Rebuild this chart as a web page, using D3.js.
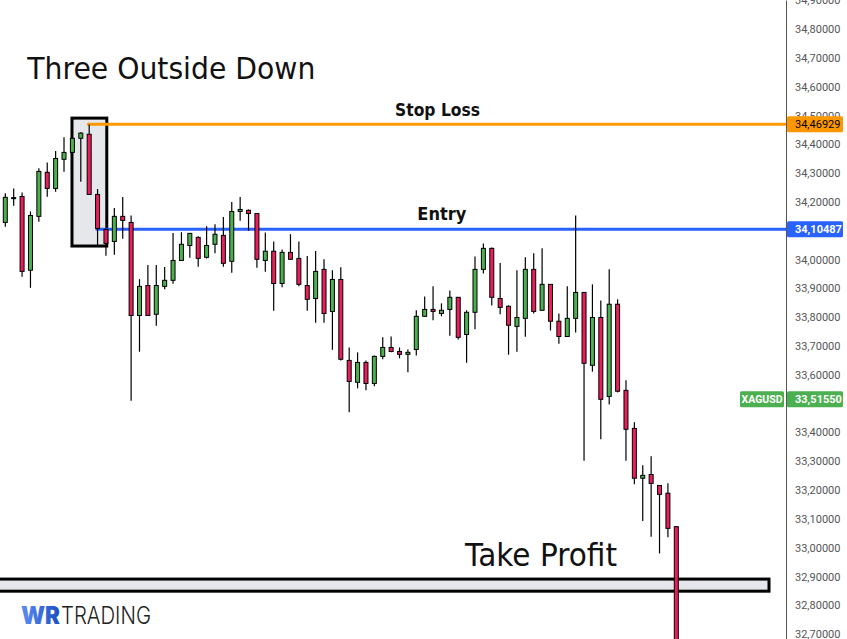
<!DOCTYPE html>
<html><head><meta charset="utf-8">
<script src="https://cdn.jsdelivr.net/npm/d3@7"></script>
<style>html,body{margin:0;padding:0;background:#fff;}svg{display:block;}</style>
</head><body>
<svg id="chart" width="847" height="639"></svg>
<script>
// ---- data ----
const opens  = [34.129,34.213,34.219,33.963,34.150,34.303,34.247,34.348,34.372,34.421,34.435,34.226,34.105,34.063,34.150,34.129,33.806,33.910,33.810,33.907,33.928,33.997,34.049,34.077,34.008,34.053,34.084,33.994,34.167,34.171,34.160,33.997,34.029,33.917,34.025,34.004,33.910,33.865,33.966,33.820,33.931,33.650,33.574,33.643,33.570,33.664,33.695,33.681,33.671,33.688,33.803,33.827,33.813,33.827,33.869,33.740,33.817,33.966,34.039,33.865,33.838,33.768,33.796,33.966,33.824,33.914,33.786,33.733,33.796,33.886,33.633,33.799,33.525,33.845,33.546,33.414,33.241,33.254,33.216,33.189,33.073];
const highs  = [34.230,34.247,34.233,34.167,34.317,34.337,34.377,34.425,34.424,34.442,34.469,34.245,34.108,34.179,34.217,34.153,33.932,33.981,33.981,33.974,34.092,34.095,34.092,34.081,34.116,34.123,34.148,34.200,34.217,34.174,34.161,34.094,34.063,34.035,34.088,34.063,34.012,34.030,34.001,33.963,33.973,33.695,33.678,33.650,33.667,33.730,33.733,33.695,33.688,33.824,33.872,33.907,33.848,33.893,33.870,33.824,34.011,34.056,34.042,33.988,33.841,33.963,34.008,34.022,34.039,33.915,33.813,33.907,34.153,33.887,33.914,33.858,33.966,33.862,33.581,33.435,33.286,33.317,33.217,33.224,33.074];
const lows   = [34.114,34.187,33.940,33.902,34.131,34.218,34.235,34.305,34.370,34.270,34.224,34.050,34.013,34.017,34.072,33.510,33.680,33.804,33.770,33.897,33.916,33.995,34.006,33.975,34.004,34.022,33.975,33.954,34.135,34.100,33.972,33.958,33.822,33.904,33.999,33.907,33.822,33.781,33.781,33.687,33.650,33.470,33.553,33.546,33.560,33.654,33.678,33.657,33.609,33.667,33.801,33.789,33.803,33.736,33.723,33.642,33.758,33.952,33.841,33.810,33.670,33.680,33.732,33.813,33.822,33.754,33.708,33.731,33.747,33.302,33.611,33.376,33.497,33.539,33.302,33.220,33.093,33.038,32.980,33.036,32.600];
const closes = [34.216,34.215,33.959,34.153,34.306,34.247,34.351,34.372,34.421,34.439,34.226,34.108,34.056,34.150,34.136,33.806,33.907,33.806,33.910,33.928,33.997,34.053,34.091,34.004,34.049,34.088,33.987,34.167,34.174,34.160,34.001,34.029,33.917,34.025,34.001,33.914,33.862,33.959,33.813,33.931,33.654,33.577,33.643,33.570,33.664,33.695,33.681,33.671,33.678,33.803,33.827,33.820,33.824,33.869,33.730,33.817,33.966,34.039,33.869,33.834,33.772,33.799,33.966,33.820,33.914,33.786,33.733,33.796,33.886,33.640,33.799,33.515,33.845,33.543,33.411,33.241,33.251,33.223,33.185,33.067,32.620];
// 33.5 tick label is hidden behind the last-price tag in the reference
const yTicks = [32.7,32.8,32.9,33.0,33.1,33.2,33.3,33.4,33.6,33.7,33.8,33.9,34.0,34.1,34.2,34.3,34.4,34.5,34.6,34.7,34.8,34.9];
const stopLoss = 34.46929;
const entry = 34.10487;
const lastPrice = 33.5155;
const takeProfitZone = [32.849, 32.891];
const patternZone = [34.047, 34.491];
const patternIdx = [7.95, 12.1];
const symbol = "XAGUSD";

const candles = opens.map((o,i)=>({i,o,h:highs[i],l:lows[i],c:closes[i]}));

const W = 847, H = 639, axisX = 786;
const svg = d3.select("#chart");
const x = d3.scaleLinear().domain([0, 80]).range([5.3, 676.3]);
const y = d3.scaleLinear().domain([32.683, 34.901]).range([H, 0]);
const fmt = v => d3.format(".5f")(v).replace(".", ",");

svg.append("defs").append("clipPath").attr("id","plot")
  .append("rect").attr("x",0).attr("y",0).attr("width",axisX).attr("height",H);

const plot = svg.append("g").attr("clip-path","url(#plot)");

// pattern box
plot.append("rect")
  .attr("x", x(patternIdx[0])).attr("y", y(patternZone[1]))
  .attr("width", x(patternIdx[1]) - x(patternIdx[0]))
  .attr("height", y(patternZone[0]) - y(patternZone[1]))
  .attr("fill","#e6e7eb").attr("stroke","#000").attr("stroke-width",3);

// take profit box
plot.append("rect")
  .attr("x", -2).attr("y", y(takeProfitZone[1]))
  .attr("width", 771).attr("height", y(takeProfitZone[0]) - y(takeProfitZone[1]))
  .attr("fill","#e6e7eb").attr("stroke","#000").attr("stroke-width",3);

// lines
plot.append("line").attr("x1", x(10)-2).attr("x2", axisX)
  .attr("y1", y(stopLoss)).attr("y2", y(stopLoss))
  .attr("stroke","#ff9800").attr("stroke-width",3);
plot.append("line").attr("x1", x(11)-2).attr("x2", axisX)
  .attr("y1", y(entry)).attr("y2", y(entry))
  .attr("stroke","#2962ff").attr("stroke-width",3);

// candles
const cg = plot.selectAll("g.c").data(candles).join("g").attr("class","c");
cg.append("line")
  .attr("x1", d=>x(d.i)).attr("x2", d=>x(d.i))
  .attr("y1", d=>y(d.h)).attr("y2", d=>y(d.l))
  .attr("stroke","#000").attr("stroke-width",1.2);
const bw = 4;
cg.append("rect")
  .attr("x", d=>x(d.i)-bw/2)
  .attr("y", d=>y(Math.max(d.o,d.c)))
  .attr("width", bw)
  .attr("height", d=>Math.max(1, Math.abs(y(d.o)-y(d.c))))
  .attr("fill", d=> d.c>=d.o ? "#4caf50" : "#e91e5a")
  .attr("stroke","#000").attr("stroke-width",1);

// axis
const axis = svg.append("g").attr("transform",`translate(${axisX},0)`)
  .call(d3.axisRight(y).tickValues(yTicks).tickFormat(fmt).tickSize(0).tickPadding(9));
axis.select(".domain").attr("stroke","#555");
axis.selectAll("text").attr("fill","#555").style("font-family","Roboto, sans-serif").style("font-size","11px");

// price labels
function priceTag(v, fill, color){
  const g = svg.append("g");
  g.append("rect").attr("x", axisX+1).attr("y", y(v)-8).attr("width",56).attr("height",16)
    .attr("rx",1.5).attr("fill",fill);
  g.append("text").attr("x", axisX+9).attr("y", y(v)+4).text(fmt(v))
    .attr("fill",color).style("font-family","Roboto, sans-serif").style("font-size","11px")
    .style("font-weight", color==="#fff" ? 700 : 400);
}
priceTag(stopLoss, "#ff9800", "#000");
priceTag(entry, "#2962ff", "#fff");
priceTag(lastPrice, "#4caf50", "#fff");
svg.append("rect").attr("x",740).attr("y",y(lastPrice)-8).attr("width",44).attr("height",16).attr("rx",1.5).attr("fill","#4caf50");
svg.append("text").attr("x",762).attr("y",y(lastPrice)+4).attr("text-anchor","middle").text(symbol)
  .attr("fill","#fff").style("font-family","Roboto, sans-serif").style("font-size","10.5px").style("font-weight",700);

// annotation texts
const ff = "'DejaVu Sans', Verdana, sans-serif";
svg.append("text").attr("x",27.3).attr("y",79.3).text("Three Outside Down")
  .attr("textLength",288).attr("lengthAdjust","spacingAndGlyphs")
  .style("font-family",ff).style("font-size","31px").attr("fill","#111");
svg.append("text").attr("x",465).attr("y",565.7).text("Take Profit")
  .attr("textLength",152).attr("lengthAdjust","spacingAndGlyphs")
  .style("font-family",ff).style("font-size","32px").attr("fill","#111");
svg.append("text").attr("x",395).attr("y",115.7).text("Stop Loss")
  .attr("textLength",85).attr("lengthAdjust","spacingAndGlyphs")
  .style("font-family",ff).style("font-size","18px").style("font-weight",700).attr("fill","#111");
svg.append("text").attr("x",417.3).attr("y",220).text("Entry")
  .attr("textLength",49).attr("lengthAdjust","spacingAndGlyphs")
  .style("font-family",ff).style("font-size","18px").style("font-weight",700).attr("fill","#111");

// logo
const lg = svg.append("defs").append("linearGradient").attr("id","wrg");
lg.append("stop").attr("offset","0%").attr("stop-color","#5b8def");
lg.append("stop").attr("offset","100%").attr("stop-color","#1d4fc4");
svg.append("text").attr("x",21).attr("y",624).text("WR")
  .attr("textLength",39).attr("lengthAdjust","spacingAndGlyphs")
  .style("font-family","Inter, sans-serif").style("font-size","24px").style("font-weight",900)
  .attr("fill","url(#wrg)");
svg.append("text").attr("x",61).attr("y",624).text("TRADING")
  .attr("textLength",90).attr("lengthAdjust","spacingAndGlyphs")
  .style("font-family","Inter, sans-serif").style("font-size","24px").style("font-weight",300)
  .attr("fill","#222");
</script>
</body></html>
